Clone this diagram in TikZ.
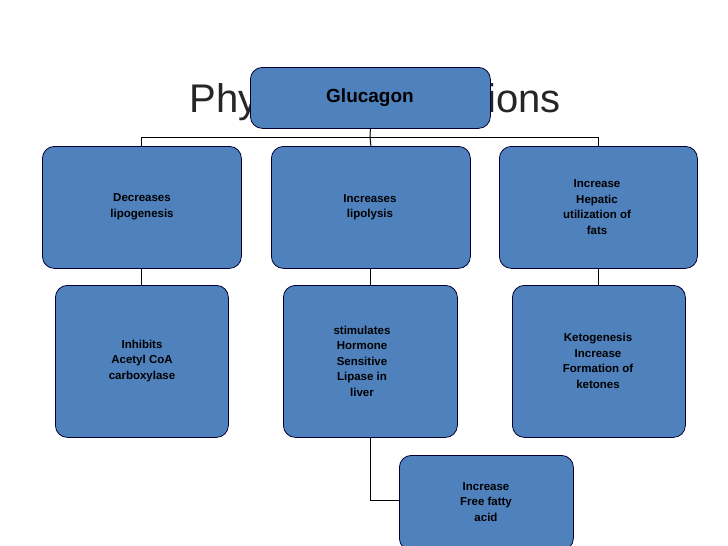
\documentclass[tikz,border=0pt]{standalone}
\usepackage{fontspec}
\setmainfont{Liberation Sans}
\begin{document}
\begin{tikzpicture}[x=1pt,y=-1pt,
 box/.style={draw=black!80!blue,line width=0.8pt,fill=boxblue,rounded corners=12pt,anchor=north west},
 lab/.style={font=\fontsize{11.5}{15.5}\selectfont\bfseries,align=center,text=black},
 conn/.style={draw=black,line width=1pt}]
\definecolor{boxblue}{HTML}{4F81BD}
\useasboundingbox (0,0) rectangle (728,546);
\fill[white] (0,0) rectangle (728,546);
\node[font=\fontsize{40}{42}\selectfont,text=black!85,anchor=base] (title) at (375,112) {Physiological actions};
\node[box,minimum width=240pt,minimum height=61pt] (g) at (250,67) {};
\node[font=\fontsize{19}{22}\selectfont\bfseries] (gt) at (370,98) {Glucagon};
\node[box,minimum width=199pt,minimum height=122pt] (b1) at (42,146) {};
\node[box,minimum width=199pt,minimum height=122pt] (b2) at (271,146) {};
\node[box,minimum width=198pt,minimum height=122pt] (b3) at (499,146) {};
\node[box,minimum width=173pt,minimum height=152pt] (b4) at (55,285) {};
\node[box,minimum width=174pt,minimum height=152pt] (b5) at (283,285) {};
\node[box,minimum width=173pt,minimum height=152pt] (b6) at (512,285) {};
\node[box,minimum width=174pt,minimum height=95pt] (b7) at (399,455) {};
\node[lab] (t1) at (142,207) {Decreases\\lipogenesis};
\node[lab] (t2) at (370,207) {Increases\\lipolysis};
\node[lab] (t3) at (597,207) {Increase\\Hepatic\\utilization of\\fats};
\node[lab] (t4) at (142,361) {Inhibits\\Acetyl CoA\\carboxylase};
\node[lab] (t5) at (362,361) {stimulates\\Hormone\\Sensitive\\Lipase in\\liver};
\node[lab] (t6) at (598,361) {Ketogenesis\\Increase\\Formation of\\ketones};
\node[lab] (t7) at (486,502) {Increase\\Free fatty\\acid};
\coordinate (j) at (370,137);
\draw[conn] (g.south) -- (j);
\draw[conn] (j) -| (b1.north);
\draw[conn] (j) -- (b2.north);
\draw[conn] (j) -| (b3.north);
\draw[conn] (b1.south) -- (b4.north-|b1.south);
\draw[conn] (b2.south) -- (b5.north-|b2.south);
\draw[conn] (b3.south) -- (b6.north-|b3.south);
\draw[conn] (b5.south) |- (b7.west|-0,500);
\end{tikzpicture}
\end{document}
